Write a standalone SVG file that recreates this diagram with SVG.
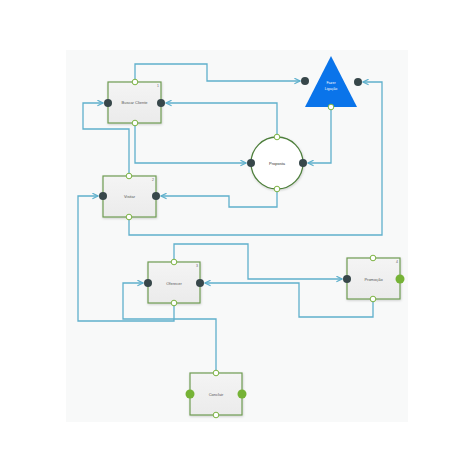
<svg xmlns="http://www.w3.org/2000/svg" width="474" height="474" viewBox="0 0 474 474">
<defs>
<marker id="arr" viewBox="0 0 10 10" refX="9" refY="5" markerWidth="7" markerHeight="7" orient="auto" markerUnits="userSpaceOnUse">
<path d="M1,1 L9,5 L1,9" fill="none" stroke="#5fb0cc" stroke-width="1.8"/>
</marker>
<linearGradient id="box" x1="0" y1="0" x2="0" y2="1">
<stop offset="0" stop-color="#f4f4f4"/><stop offset="1" stop-color="#ebebeb"/>
</linearGradient>
<filter id="sh" x="-20%" y="-20%" width="140%" height="140%">
<feDropShadow dx="0.5" dy="1" stdDeviation="1" flood-color="#000" flood-opacity="0.18"/>
</filter>
</defs>
<style>
.bg{fill:#f8f9f9}
.c{fill:none;stroke:#5fb0cc;stroke-width:1.3;marker-end:url(#arr)}
.n{fill:url(#box);stroke:#6f9c52;stroke-width:1.2;filter:url(#sh)}
.pd{fill:#37474a}
.po{fill:#fff;stroke:#7cb342;stroke-width:1}
.pg{fill:#76b336}
.t{font-family:"Liberation Sans",Arial,sans-serif;font-size:4px;fill:#555;text-anchor:middle}
.num{font-family:"Liberation Sans",Arial,sans-serif;font-size:3.5px;fill:#666;text-anchor:end}
</style>
<rect class="bg" x="66" y="50" width="342" height="372"/>
<g id="connectors">
<path class="c" d="M135,82 V64 H207 V81 H300"/>
<path class="c" d="M277,137 V103 H166"/>
<path class="c" d="M135,123 V163 H246"/>
<path class="c" d="M331,107 V163 H308"/>
<path class="c" d="M277,189 V207 H229 V196 H161"/>
<path class="c" d="M129,176 V129 H83 V103 H103"/>
<path class="c" d="M129,217 V235 H382 V82 H363"/>
<path class="c" d="M174,262 V244 H248 V279 H342"/>
<path class="c" d="M373,299 V317 H299 V283 H205"/>
<path class="c" d="M174,303 V321 H78 V196 H98"/>
<path class="c" d="M216,373 V319 H123 V283 H143"/>
</g>
<g id="buscar-cliente">
<rect class="n" x="108" y="82" width="53" height="41"/>
<text class="t" x="134.5" y="104">Buscar Cliente</text>
<text class="num" x="159" y="86.5">1</text>
<circle class="pd" cx="108" cy="103" r="4"/>
<circle class="pd" cx="161" cy="103" r="4"/>
<circle class="po" cx="135" cy="82" r="2.8"/>
<circle class="po" cx="135" cy="123" r="2.8"/>
</g>
<g id="visitar">
<rect class="n" x="103" y="176" width="53" height="41"/>
<text class="t" x="129.5" y="197.5">Visitar</text>
<text class="num" x="154" y="180.5">2</text>
<circle class="pd" cx="103" cy="196" r="4"/>
<circle class="pd" cx="156" cy="196" r="4"/>
<circle class="po" cx="129" cy="176" r="2.8"/>
<circle class="po" cx="129" cy="217" r="2.8"/>
</g>
<g id="proposta">
<circle cx="277" cy="163" r="26" fill="#fff" stroke="#4e7f3c" stroke-width="1.3" filter="url(#sh)"/>
<text class="t" x="277" y="164.5" style="fill:#333">Proposta</text>
<circle class="pd" cx="251" cy="163" r="4"/>
<circle class="pd" cx="303" cy="163" r="4"/>
<circle class="po" cx="277" cy="137" r="2.8"/>
<circle class="po" cx="277" cy="189" r="2.8"/>
</g>
<g id="fazer-ligacao">
<polygon points="331,56 357,107 305,107" fill="#0a74ea"/>
<text class="t" x="331" y="84" style="fill:#fff;font-size:3.6px">Fazer</text>
<text class="t" x="331" y="90" style="fill:#fff;font-size:3.6px">Ligação</text>
<circle class="pd" cx="305" cy="81" r="4"/>
<circle class="pd" cx="358" cy="82" r="4"/>
<circle class="po" cx="331" cy="107" r="2.8"/>
</g>
<g id="oferecer">
<rect class="n" x="148" y="262" width="52" height="41"/>
<text class="t" x="174" y="284.5">Oferecer</text>
<text class="num" x="198" y="266.5">3</text>
<circle class="pd" cx="148" cy="283" r="4"/>
<circle class="pd" cx="200" cy="283" r="4"/>
<circle class="po" cx="174" cy="262" r="2.8"/>
<circle class="po" cx="174" cy="303" r="2.8"/>
</g>
<g id="promocao">
<rect class="n" x="347" y="258" width="53" height="41"/>
<text class="t" x="373.5" y="280.5">Promoção</text>
<text class="num" x="398" y="262.5">4</text>
<circle class="pd" cx="347" cy="279" r="4"/>
<circle class="pg" cx="400" cy="279" r="4.5"/>
<circle class="po" cx="373" cy="258" r="2.8"/>
<circle class="po" cx="373" cy="299" r="2.8"/>
</g>
<g id="concluir">
<rect class="n" x="190" y="373" width="52" height="42"/>
<text class="t" x="216" y="395.5">Concluir</text>
<circle class="pg" cx="190" cy="394" r="4.5"/>
<circle class="pg" cx="242" cy="394" r="4.5"/>
<circle class="po" cx="216" cy="373" r="2.8"/>
<circle class="po" cx="216" cy="415" r="2.8"/>
</g>
</svg>
